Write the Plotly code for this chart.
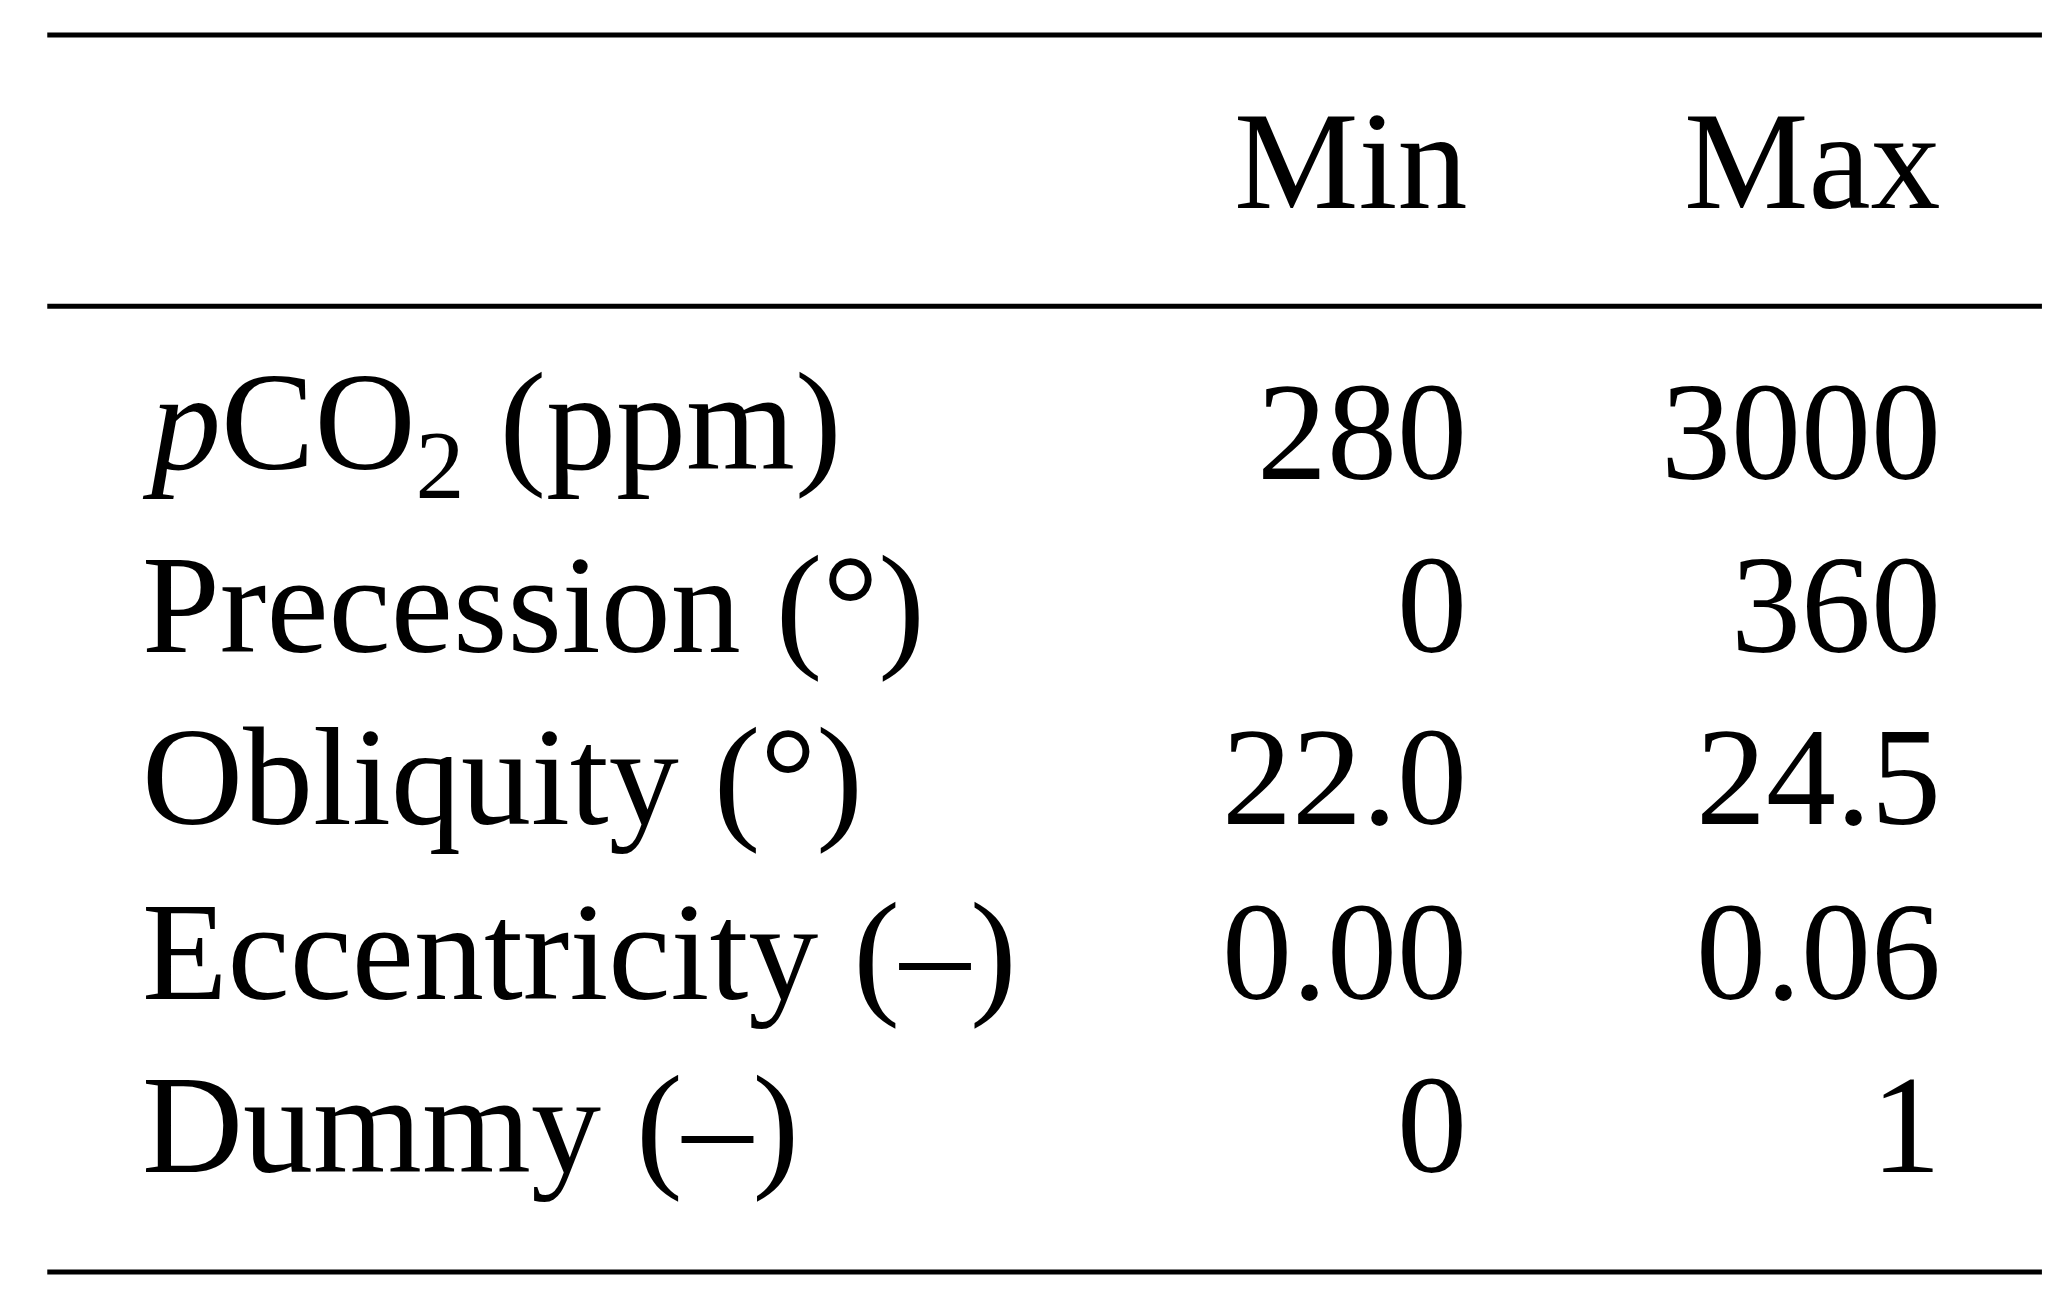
import plotly.graph_objects as go

header = ["Min", "Max"]
params = ["<i>p</i>CO<sub>2</sub> (ppm)", "Precession (°)", "Obliquity (°)", "Eccentricity (–)", "Dummy (–)"]
mins = ["280", "0", "22.0", "0.00", "0"]
maxs = ["3000", "360", "24.5", "0.06", "1"]

fig = go.Figure()
font = dict(family="Liberation Serif", size=140, color="black")
row_y = [0.328, 0.462, 0.595, 0.731, 0.865]
ann = []
ann.append(dict(x=0.707, y=1 - 0.118, text=header[0], xanchor="right"))
ann.append(dict(x=0.936, y=1 - 0.118, text=header[1], xanchor="right"))
for y, p, a, b in zip(row_y, params, mins, maxs):
    ann.append(dict(x=0.064, y=1 - y, text=p, xanchor="left"))
    ann.append(dict(x=0.707, y=1 - y, text=a, xanchor="right"))
    ann.append(dict(x=0.936, y=1 - y, text=b, xanchor="right"))
for a in ann:
    a.update(xref="paper", yref="paper", showarrow=False, yanchor="middle", font=font)
shapes = [dict(type="line", xref="paper", yref="paper", x0=0.019, x1=0.984, y0=1 - yy, y1=1 - yy,
               line=dict(color="black", width=5)) for yy in (0.021, 0.231, 0.979)]
fig.update_layout(width=2067, height=1291, margin=dict(l=0, r=0, t=0, b=0),
                  paper_bgcolor="white", plot_bgcolor="white",
                  annotations=ann, shapes=shapes,
                  xaxis=dict(visible=False, range=[0, 1]),
                  yaxis=dict(visible=False, range=[0, 1]))
fig.write_html("out.html")
